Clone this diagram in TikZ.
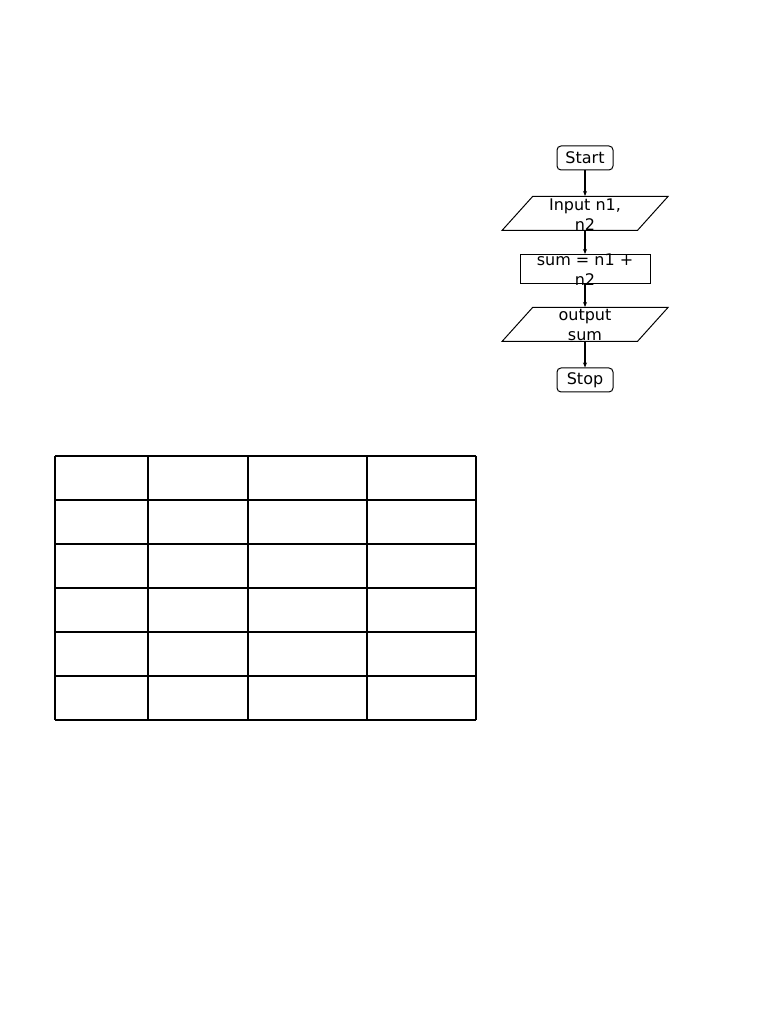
\documentclass[tikz,border=0pt]{standalone}
\usepackage{fontspec}
\setmainfont{DejaVu Sans}
\usetikzlibrary{shapes.geometric,arrows.meta}

\begin{document}
\begin{tikzpicture}[x=1pt, y=1pt, node distance=55.5pt,
  every node/.style = {font=\fontsize{16}{20}\selectfont},
  term/.style = {draw, rounded corners=4pt, minimum width=56pt, minimum height=24pt, inner sep=1pt, line width=1pt},
  io/.style = {draw, trapezium, trapezium left angle=48, trapezium right angle=132, trapezium stretches body=true, inner xsep=0pt, inner ysep=17pt, minimum width=166pt, line width=1pt},
  proc/.style = {draw, rectangle, minimum width=130pt, minimum height=29pt, line width=1pt},
  txt/.style = {align=center, inner sep=0pt},
  cell/.style = {line width=1.4pt}]
\useasboundingbox (0,0) rectangle (768,1024);
\node[term] (start) at (585,866) {Start};
\node[io] (in) [below of=start] {};
\node[proc] (sum) [below of=in] {};
\node[io] (out) [below of=sum] {};
\node[term] (stop) [below of=out] {Stop};
\node[txt] (intxt) at ([yshift=-1pt]in.center) {Input n1,\\n2};
\node[txt] (sumtxt) at ([yshift=-1pt]sum.center) {sum = n1 +\\n2};
\node[txt] (outtxt) at ([yshift=-1pt]out.center) {output\\sum};
\draw[-{Stealth[length=5pt,width=4pt]}, line width=1.4pt] (start) -- (in);
\draw[-{Stealth[length=5pt,width=4pt]}, line width=1.4pt] (in) -- (sum);
\draw[-{Stealth[length=5pt,width=4pt]}, line width=1.4pt] (sum) -- (out);
\draw[-{Stealth[length=5pt,width=4pt]}, line width=1.4pt] (out) -- (stop);
% table
\foreach \x in {55,148,248,367,476}
  \draw[cell] (\x,568) -- (\x,304);
\foreach \y in {568,524,480,436,392,348,304}
  \draw[cell] (55,\y) -- (476,\y);
\end{tikzpicture}
\end{document}
